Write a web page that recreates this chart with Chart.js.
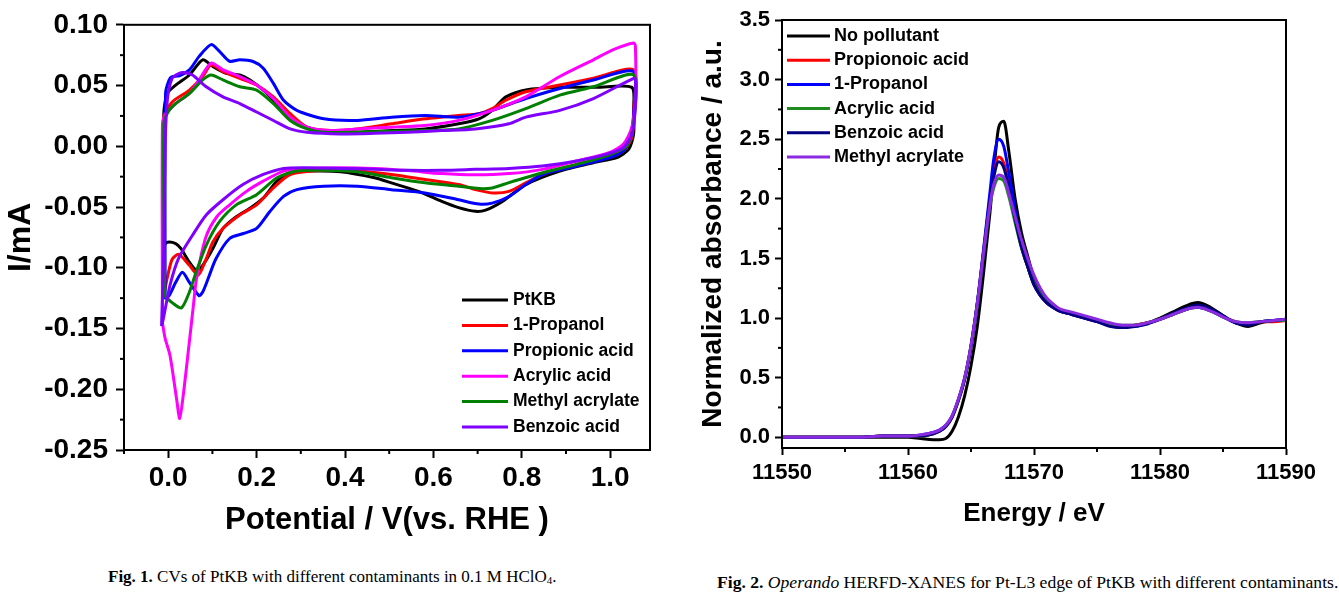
<!DOCTYPE html>
<html>
<head>
<meta charset="utf-8">
<script src="https://cdn.jsdelivr.net/npm/chart.js@4.4.1/dist/chart.umd.min.js"></script>
<style>
  body { margin: 0; background: #fff; }
  #page { position: relative; width: 1339px; height: 600px; overflow: hidden; background: #fff; }
  canvas { position: absolute; top: 0; }
  .cap { position: absolute; font-family: 'Liberation Serif', 'Times New Roman', serif; font-size: 17px; color: #000; white-space: nowrap; }
  .cap sub { font-size: 11px; vertical-align: -2px; }
</style>
</head>
<body>
<div id="page">
  <canvas id="cvChart" width="670" height="545" style="left:0"></canvas>
  <canvas id="xanesChart" width="659" height="545" style="left:680px"></canvas>
  <div class="cap" style="left:108px; top:567px"><b>Fig. 1.</b> CVs of PtKB with different contaminants in 0.1 M HClO<sub>4</sub>.</div>
  <div class="cap" style="left:717px; top:572px; font-size:17.6px"><b>Fig. 2.</b> <i>Operando</i> HERFD-XANES for Pt-L3 edge of PtKB with different contaminants.</div>
</div>
<script>
// ---------- Fig. 1 : cyclic voltammograms, [potential V, current mA] ----------
const cvLabels = ['PtKB', '1-Propanol', 'Propionic acid', 'Acrylic acid', 'Methyl acrylate', 'Benzoic acid'];
const cvColors = ['#000000', '#ff0000', '#0000ff', '#ff00ff', '#008000', '#7f00ff'];
const cvXTicks = [0, 0.2, 0.4, 0.6, 0.8, 1.0];
const cvYTicks = [0.10, 0.05, 0.00, -0.05, -0.10, -0.15, -0.20, -0.25];

const cvPtKB = [
  [-0.010,-0.0787],[-0.010,0.0268],[-0.002,0.0435],[0.017,0.0504],[0.048,0.0587],[0.078,0.0712],[0.101,0.0657],
  [0.131,0.0601],[0.162,0.0587],[0.185,0.0546],[0.215,0.0463],[0.246,0.0352],[0.276,0.0240],[0.314,0.0157],
  [0.352,0.0124],[0.428,0.0116],[0.505,0.0129],[0.581,0.0143],[0.657,0.0185],[0.703,0.0226],[0.733,0.0296],
  [0.764,0.0407],[0.809,0.0463],[0.886,0.0485],[0.970,0.0485],[1.049,0.0485],
  [1.053,0.0300],[1.053,0.0102],[1.042,-0.0024],[1.015,-0.0093],[0.962,-0.0135],[0.886,-0.0204],[0.809,-0.0315],
  [0.756,-0.0454],[0.718,-0.0525],[0.695,-0.0535],[0.657,-0.0505],[0.619,-0.0454],[0.566,-0.0371],[0.505,-0.0301],
  [0.467,-0.0259],[0.390,-0.0209],[0.322,-0.0204],[0.276,-0.0218],[0.246,-0.0287],[0.215,-0.0426],[0.185,-0.0510],
  [0.154,-0.0579],[0.124,-0.0676],[0.101,-0.0842],[0.078,-0.0980],[0.064,-0.1020],[0.048,-0.0954],[0.029,-0.0843],
  [0.017,-0.0801],[-0.002,-0.0790],[-0.010,-0.0815],[-0.010,-0.0787]
];
const cvPropanol = [
  [-0.010,-0.1231],[-0.010,0.0240],[0.009,0.0365],[0.048,0.0463],[0.078,0.0574],[0.097,0.0670],[0.124,0.0615],
  [0.162,0.0560],[0.200,0.0504],[0.238,0.0407],[0.276,0.0268],[0.314,0.0157],[0.367,0.0129],[0.428,0.0143],
  [0.505,0.0185],[0.581,0.0226],[0.657,0.0254],[0.703,0.0268],[0.733,0.0310],[0.764,0.0379],[0.809,0.0449],
  [0.886,0.0504],[0.962,0.0560],[1.053,0.0629],
  [1.053,0.0300],[1.049,0.0074],[1.030,-0.0037],[0.992,-0.0093],[0.924,-0.0149],[0.847,-0.0232],[0.809,-0.0301],
  [0.771,-0.0371],[0.733,-0.0384],[0.695,-0.0357],[0.657,-0.0315],[0.581,-0.0273],[0.505,-0.0232],[0.428,-0.0204],
  [0.352,-0.0198],[0.276,-0.0232],[0.238,-0.0343],[0.200,-0.0482],[0.162,-0.0565],[0.124,-0.0676],[0.101,-0.0787],
  [0.086,-0.0926],[0.068,-0.1060],[0.048,-0.0980],[0.024,-0.0890],[0.009,-0.0930],[-0.002,-0.1080],[-0.010,-0.1231]
];
const cvPropionic = [
  [-0.007,-0.1260],[-0.006,0.0435],[0.002,0.0546],[0.009,0.0574],[0.025,0.0580],[0.048,0.0629],[0.070,0.0740],
  [0.097,0.0837],[0.116,0.0782],[0.139,0.0700],[0.162,0.0712],[0.192,0.0698],[0.215,0.0643],[0.238,0.0518],
  [0.261,0.0379],[0.291,0.0296],[0.352,0.0226],[0.428,0.0213],[0.505,0.0240],[0.581,0.0254],[0.657,0.0240],
  [0.703,0.0268],[0.733,0.0296],[0.809,0.0393],[0.886,0.0476],[0.962,0.0546],[1.053,0.0615],
  [1.053,0.0268],[1.045,0.0074],[1.030,-0.0037],[0.999,-0.0093],[0.924,-0.0162],[0.847,-0.0232],[0.809,-0.0315],
  [0.771,-0.0413],[0.733,-0.0468],[0.703,-0.0476],[0.657,-0.0440],[0.581,-0.0384],[0.505,-0.0357],[0.428,-0.0329],
  [0.352,-0.0329],[0.291,-0.0357],[0.261,-0.0413],[0.230,-0.0537],[0.200,-0.0676],[0.170,-0.0718],[0.139,-0.0759],
  [0.108,-0.0926],[0.090,-0.1093],[0.078,-0.1200],[0.070,-0.1230],[0.048,-0.1120],[0.032,-0.1037],[0.017,-0.1120],
  [0.002,-0.1230],[-0.007,-0.1260]
];
const cvAcrylic = [
  [-0.013,-0.1453],[-0.013,0.0185],[-0.006,0.0268],[0.002,0.0296],[0.017,0.0352],[0.048,0.0435],[0.070,0.0546],
  [0.097,0.0685],[0.124,0.0629],[0.162,0.0574],[0.200,0.0504],[0.238,0.0393],[0.276,0.0240],[0.314,0.0157],
  [0.367,0.0129],[0.428,0.0143],[0.505,0.0157],[0.581,0.0171],[0.657,0.0213],[0.733,0.0296],[0.809,0.0407],
  [0.886,0.0574],[0.962,0.0712],[1.007,0.0796],[1.053,0.0851],
  [1.057,0.0823],[1.057,0.0407],[1.049,0.0157],[1.030,0.0018],[0.999,-0.0051],[0.924,-0.0121],[0.847,-0.0190],
  [0.771,-0.0225],[0.695,-0.0235],[0.619,-0.0225],[0.543,-0.0200],[0.467,-0.0182],[0.390,-0.0176],[0.314,-0.0182],
  [0.261,-0.0204],[0.215,-0.0287],[0.177,-0.0371],[0.139,-0.0482],[0.110,-0.0580],[0.085,-0.0750],[0.064,-0.1090],
  [0.057,-0.1310],[0.046,-0.1670],[0.034,-0.2050],[0.026,-0.2240],[0.019,-0.2080],[0.004,-0.1720],[-0.007,-0.1580],
  [-0.013,-0.1453]
];
const cvMethylAcrylate = [
  [-0.008,-0.1231],[-0.010,0.0185],[0.002,0.0296],[0.017,0.0352],[0.048,0.0435],[0.078,0.0546],[0.097,0.0587],
  [0.124,0.0546],[0.162,0.0490],[0.200,0.0463],[0.238,0.0352],[0.276,0.0212],[0.314,0.0143],[0.352,0.0116],
  [0.428,0.0116],[0.505,0.0123],[0.581,0.0129],[0.657,0.0143],[0.733,0.0213],[0.809,0.0310],[0.886,0.0421],
  [0.962,0.0490],[1.053,0.0587],
  [1.053,0.0185],[1.038,0.0004],[0.992,-0.0079],[0.924,-0.0149],[0.847,-0.0218],[0.771,-0.0299],[0.733,-0.0343],
  [0.703,-0.0348],[0.657,-0.0329],[0.581,-0.0301],[0.505,-0.0259],[0.428,-0.0210],[0.352,-0.0198],[0.291,-0.0204],
  [0.246,-0.0259],[0.200,-0.0398],[0.154,-0.0482],[0.116,-0.0621],[0.086,-0.0815],[0.063,-0.1037],[0.048,-0.1200],
  [0.030,-0.1330],[0.009,-0.1287],[-0.008,-0.1231]
];
const cvBenzoic = [
  [-0.015,-0.1480],[-0.010,-0.0843],[-0.007,-0.0009],[-0.002,0.0379],[0.009,0.0560],[0.025,0.0601],[0.036,0.0607],
  [0.055,0.0587],[0.086,0.0490],[0.124,0.0407],[0.162,0.0352],[0.200,0.0282],[0.238,0.0212],[0.276,0.0143],
  [0.314,0.0116],[0.390,0.0102],[0.467,0.0107],[0.543,0.0116],[0.619,0.0129],[0.695,0.0143],[0.771,0.0185],
  [0.809,0.0240],[0.886,0.0296],[0.962,0.0393],[1.053,0.0560],
  [1.057,0.0546],[1.057,0.0324],[1.049,0.0102],[1.030,-0.0009],[0.992,-0.0065],[0.924,-0.0121],[0.847,-0.0163],
  [0.771,-0.0182],[0.695,-0.0190],[0.619,-0.0198],[0.543,-0.0198],[0.467,-0.0190],[0.390,-0.0182],[0.314,-0.0176],
  [0.261,-0.0182],[0.215,-0.0232],[0.169,-0.0315],[0.124,-0.0440],[0.086,-0.0565],[0.055,-0.0732],[0.023,-0.0926],
  [0.004,-0.1145],[-0.011,-0.1420],[-0.015,-0.1480]
];
const cvSeries = [cvPtKB, cvPropanol, cvPropionic, cvAcrylic, cvMethylAcrylate, cvBenzoic];

// ---------- Fig. 2 : HERFD-XANES ----------
const xanesLabels = ['No pollutant', 'Propionoic acid', '1-Propanol', 'Acrylic acid', 'Benzoic acid', 'Methyl acrylate'];
const xanesColors = ['#000000', '#ff0000', '#0000ff', '#1e8c1e', '#000080', '#8a2be2'];
const xanesXTicks = [11550, 11560, 11570, 11580, 11590];
const xanesYTicks = [0.0, 0.5, 1.0, 1.5, 2.0, 2.5, 3.0, 3.5];
const xanesEnergy = [11550, 11552, 11554, 11556, 11558, 11560, 11561, 11562, 11562.5, 11563, 11563.5, 11564,
  11564.5, 11565, 11565.5, 11566, 11566.5, 11566.8, 11567.2, 11567.6, 11568, 11568.5, 11569, 11569.5, 11570,
  11570.5, 11571, 11571.5, 11572, 11573, 11574, 11575, 11576, 11577, 11578, 11579, 11580, 11581, 11582, 11583,
  11584, 11585, 11586, 11587, 11588, 11589, 11590];
const absNoPollutant = [0.00, 0.00, 0.00, 0.00, 0.00, 0.00, -0.01, -0.02, -0.02, -0.01, 0.05, 0.17,
  0.35, 0.60, 0.93, 1.38, 1.88, 2.22, 2.60, 2.65, 2.40, 2.00, 1.72, 1.52, 1.33,
  1.21, 1.14, 1.10, 1.07, 1.04, 1.01, 0.98, 0.94, 0.92, 0.94, 0.96, 1.00, 1.05, 1.10, 1.13,
  1.09, 1.02, 0.96, 0.93, 0.96, 0.98, 0.98];
const absPropionoic = [0.00, 0.00, 0.00, 0.00, 0.01, 0.01, 0.01, 0.03, 0.05, 0.09, 0.17, 0.31,
  0.49, 0.76, 1.12, 1.56, 2.00, 2.22, 2.35, 2.30, 2.12, 1.84, 1.60, 1.43, 1.28,
  1.19, 1.13, 1.09, 1.06, 1.03, 1.00, 0.97, 0.95, 0.93, 0.94, 0.96, 0.99, 1.03, 1.07, 1.10,
  1.07, 1.01, 0.97, 0.95, 0.97, 0.97, 0.98];
const absPropanol = [0.00, 0.00, 0.00, 0.00, 0.01, 0.01, 0.02, 0.04, 0.06, 0.10, 0.18, 0.32,
  0.50, 0.77, 1.13, 1.58, 2.05, 2.33, 2.50, 2.44, 2.22, 1.90, 1.62, 1.44, 1.28,
  1.19, 1.13, 1.09, 1.06, 1.03, 1.00, 0.97, 0.94, 0.93, 0.93, 0.96, 0.99, 1.03, 1.07, 1.09,
  1.06, 1.01, 0.96, 0.95, 0.97, 0.98, 0.99];
const absAcrylic = [0.00, 0.00, 0.00, 0.00, 0.01, 0.01, 0.01, 0.03, 0.05, 0.09, 0.17, 0.31,
  0.49, 0.76, 1.11, 1.54, 1.94, 2.09, 2.17, 2.15, 2.02, 1.80, 1.59, 1.43, 1.29,
  1.20, 1.14, 1.10, 1.07, 1.04, 1.01, 0.98, 0.95, 0.94, 0.94, 0.96, 0.99, 1.03, 1.07, 1.09,
  1.06, 1.01, 0.97, 0.96, 0.97, 0.98, 0.98];
const absBenzoic = [0.00, 0.00, 0.00, 0.00, 0.01, 0.01, 0.01, 0.03, 0.05, 0.09, 0.17, 0.31,
  0.49, 0.76, 1.12, 1.55, 1.98, 2.18, 2.31, 2.26, 2.09, 1.83, 1.60, 1.43, 1.28,
  1.19, 1.13, 1.09, 1.06, 1.03, 1.00, 0.97, 0.93, 0.92, 0.93, 0.95, 0.99, 1.04, 1.08, 1.11,
  1.08, 1.02, 0.96, 0.94, 0.97, 0.98, 0.99];
const absMethylAcrylate = [0.00, 0.00, 0.00, 0.00, 0.01, 0.01, 0.02, 0.04, 0.06, 0.10, 0.18, 0.32,
  0.50, 0.77, 1.12, 1.55, 1.95, 2.12, 2.20, 2.18, 2.05, 1.85, 1.66, 1.50, 1.36,
  1.25, 1.17, 1.12, 1.08, 1.05, 1.02, 0.99, 0.96, 0.94, 0.94, 0.96, 0.99, 1.03, 1.07, 1.09,
  1.06, 1.01, 0.97, 0.96, 0.97, 0.98, 0.99];
const xanesSeries = [absNoPollutant, absPropionoic, absPropanol, absAcrylic, absBenzoic, absMethylAcrylate];

Chart.defaults.font.family = "'Liberation Sans', Arial, sans-serif";
Chart.defaults.color = '#000';

// frame around the plot + short minor ticks between the labelled ones
const boxAndMinorTicks = {
  id: 'boxAndMinorTicks',
  afterDraw(chart, args, opts) {
    const { ctx, chartArea: a, scales } = chart;
    ctx.save();
    ctx.strokeStyle = '#000';
    ctx.lineWidth = 2;
    ctx.strokeRect(a.left, a.top, a.right - a.left, a.bottom - a.top);
    const xs = scales.x, ys = scales.y;
    for (let k = Math.ceil(xs.min / opts.xMinor - 1e-6); k * opts.xMinor <= xs.max + 1e-9; k++) {
      if (Math.abs(k) % 2 !== 1) continue;
      const px = xs.getPixelForValue(k * opts.xMinor);
      ctx.beginPath(); ctx.moveTo(px, a.bottom); ctx.lineTo(px, a.bottom + opts.len); ctx.stroke();
    }
    for (let k = Math.ceil(ys.min / opts.yMinor - 1e-6); k * opts.yMinor <= ys.max + 1e-9; k++) {
      if (Math.abs(k) % 2 !== 1) continue;
      const py = ys.getPixelForValue(k * opts.yMinor);
      ctx.beginPath(); ctx.moveTo(a.left - opts.len, py); ctx.lineTo(a.left, py); ctx.stroke();
    }
    ctx.restore();
  }
};

// legend drawn inside the plot area
const insideLegend = {
  id: 'insideLegend',
  afterDatasetsDraw(chart, args, o) {
    const ctx = chart.ctx;
    ctx.save();
    ctx.font = o.font;
    ctx.textBaseline = 'middle';
    ctx.fillStyle = '#000';
    chart.data.datasets.forEach((ds, i) => {
      const y = o.y + i * o.rowH;
      ctx.strokeStyle = ds.borderColor;
      ctx.lineWidth = 3;
      ctx.beginPath(); ctx.moveTo(o.x, y); ctx.lineTo(o.x + o.lineLen, y); ctx.stroke();
      ctx.fillText(ds.label, o.x + o.lineLen + o.gap, y);
    });
    ctx.restore();
  }
};

function axisStyle(tickLen) {
  return {
    grid: { drawOnChartArea: false, drawTicks: true, tickLength: tickLen, tickWidth: 2, tickColor: '#000' },
    border: { display: true, color: '#000', width: 2 }
  };
}

new Chart(document.getElementById('cvChart'), {
  type: 'scatter',
  data: {
    datasets: cvSeries.map((pts, i) => ({
      label: cvLabels[i],
      data: pts.map(p => ({ x: p[0], y: p[1] })),
      borderColor: cvColors[i],
      backgroundColor: cvColors[i],
      showLine: true,
      borderWidth: 3,
      pointRadius: 0,
      tension: 0.25,
      order: cvSeries.length - i
    }))
  },
  options: {
    responsive: false,
    animation: false,
    devicePixelRatio: 1,
    layout: { padding: { left: 0, top: 24, right: 20, bottom: 0 } },
    plugins: {
      legend: { display: false },
      tooltip: { enabled: false },
      boxAndMinorTicks: { xMinor: 0.1, yMinor: 0.025, len: 4 },
      insideLegend: { x: 462, y: 300, rowH: 25.4, lineLen: 46, gap: 5, font: "bold 17.5px 'Liberation Sans', Arial, sans-serif" }
    },
    scales: {
      x: {
        type: 'linear', min: -0.1, max: 1.09,
        ...axisStyle(8),
        afterBuildTicks: s => { s.ticks = cvXTicks.map(v => ({ value: v })); },
        afterFit: s => { s.height = 95; },
        ticks: { padding: 3, font: { size: 28, weight: 'bold' }, callback: v => v.toFixed(1) },
        title: { display: true, text: 'Potential / V(vs. RHE )', font: { size: 31, weight: 'bold' }, padding: { top: 0, bottom: 6 } }
      },
      y: {
        type: 'linear', min: -0.25, max: 0.10,
        ...axisStyle(8),
        afterBuildTicks: s => { s.ticks = cvYTicks.map(v => ({ value: v })); },
        afterFit: s => { s.width = 124; },
        ticks: { padding: 8, font: { size: 28, weight: 'bold' }, callback: v => v.toFixed(2) },
        title: { display: true, text: 'I/mA', font: { size: 32, weight: 'bold' }, padding: { top: 2, bottom: 0 } }
      }
    }
  },
  plugins: [boxAndMinorTicks, insideLegend]
});

new Chart(document.getElementById('xanesChart'), {
  type: 'line',
  data: {
    datasets: xanesSeries.map((ys, i) => ({
      label: xanesLabels[i],
      data: ys.map((y, j) => ({ x: xanesEnergy[j], y: y })),
      borderColor: xanesColors[i],
      backgroundColor: xanesColors[i],
      borderWidth: 3,
      pointRadius: 0,
      cubicInterpolationMode: 'monotone',
      order: xanesSeries.length - i
    }))
  },
  options: {
    responsive: false,
    animation: false,
    devicePixelRatio: 1,
    layout: { padding: { left: 0, top: 20, right: 53, bottom: 0 } },
    plugins: {
      legend: { display: false },
      tooltip: { enabled: false },
      boxAndMinorTicks: { xMinor: 5, yMinor: 0.25, len: 4 },
      insideLegend: { x: 107, y: 36, rowH: 24.2, lineLen: 43, gap: 4, font: "bold 18px 'Liberation Sans', Arial, sans-serif" }
    },
    scales: {
      x: {
        type: 'linear', min: 11550, max: 11590,
        ...axisStyle(7),
        afterBuildTicks: s => { s.ticks = xanesXTicks.map(v => ({ value: v })); },
        afterFit: s => { s.height = 97; },
        ticks: { padding: 5, font: { size: 22, weight: 'bold' }, callback: v => String(v) },
        title: { display: true, text: 'Energy / eV', font: { size: 26, weight: 'bold' }, padding: { top: 0, bottom: 16 } }
      },
      y: {
        type: 'linear', min: -0.09, max: 3.5,
        ...axisStyle(7),
        afterBuildTicks: s => { s.ticks = xanesYTicks.map(v => ({ value: v })); },
        afterFit: s => { s.width = 102; },
        ticks: { padding: 5, font: { size: 22, weight: 'bold' }, callback: v => v.toFixed(1) },
        title: { display: true, text: 'Normalized absorbance / a.u.', font: { size: 28, weight: 'bold' }, padding: { top: 16, bottom: 0 } }
      }
    }
  },
  plugins: [boxAndMinorTicks, insideLegend]
});
</script>
</body>
</html>
